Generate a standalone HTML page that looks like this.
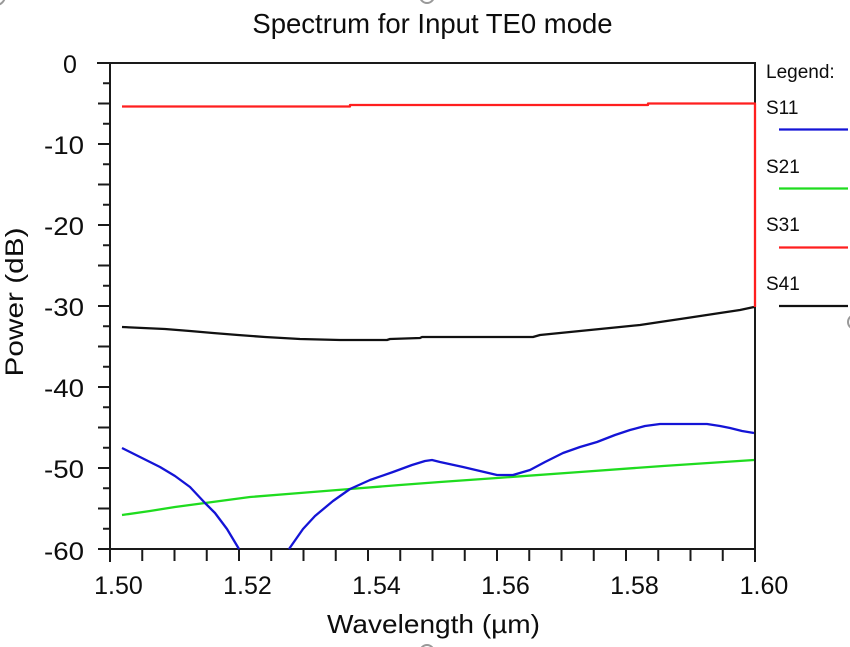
<!DOCTYPE html>
<html>
<head>
<meta charset="utf-8">
<style>
  html, body { margin: 0; padding: 0; background: #ffffff; }
  svg { display: block; }
  text { font-family: "Liberation Sans", Arial, sans-serif; fill: #0d0d0d; }
</style>
</head>
<body>
<svg width="850" height="647" viewBox="0 0 850 647" xmlns="http://www.w3.org/2000/svg">
  <rect x="0" y="0" width="850" height="647" fill="#ffffff"/>

  <!-- small grey handle artifacts -->
  <circle cx="427" cy="-4" r="7" fill="none" stroke="#999" stroke-width="2"/>
  <circle cx="427" cy="652" r="7" fill="none" stroke="#999" stroke-width="2"/>
  <circle cx="855" cy="322" r="7" fill="none" stroke="#999" stroke-width="2"/>
  <circle cx="-4" cy="-4" r="9" fill="none" stroke="#999" stroke-width="2"/>

  <!-- Title -->
  <text x="432.5" y="33" font-size="27.5" text-anchor="middle">Spectrum for Input TE0 mode</text>

  <!-- Frame -->
  <g stroke="#1a1a1a" stroke-width="2" fill="none">
    <line x1="97" y1="63" x2="756" y2="63"/>
    <line x1="755" y1="63" x2="755" y2="562"/>
    <line x1="110" y1="549" x2="756" y2="549"/>
    <line x1="110" y1="62" x2="110" y2="562"/>
  </g>

  <!-- Y ticks -->
  <g stroke="#1a1a1a" stroke-width="2">
    <line x1="98" y1="63" x2="110" y2="63"/>
    <line x1="103" y1="83.25" x2="110" y2="83.25"/>
    <line x1="98" y1="103.5" x2="110" y2="103.5"/>
    <line x1="103" y1="123.75" x2="110" y2="123.75"/>
    <line x1="98" y1="144" x2="110" y2="144"/>
    <line x1="103" y1="164.25" x2="110" y2="164.25"/>
    <line x1="98" y1="184.5" x2="110" y2="184.5"/>
    <line x1="103" y1="204.75" x2="110" y2="204.75"/>
    <line x1="98" y1="225" x2="110" y2="225"/>
    <line x1="103" y1="245.25" x2="110" y2="245.25"/>
    <line x1="98" y1="265.5" x2="110" y2="265.5"/>
    <line x1="103" y1="285.75" x2="110" y2="285.75"/>
    <line x1="98" y1="306" x2="110" y2="306"/>
    <line x1="103" y1="326.25" x2="110" y2="326.25"/>
    <line x1="98" y1="346.5" x2="110" y2="346.5"/>
    <line x1="103" y1="366.75" x2="110" y2="366.75"/>
    <line x1="98" y1="387" x2="110" y2="387"/>
    <line x1="103" y1="407.25" x2="110" y2="407.25"/>
    <line x1="98" y1="427.5" x2="110" y2="427.5"/>
    <line x1="103" y1="447.75" x2="110" y2="447.75"/>
    <line x1="98" y1="468" x2="110" y2="468"/>
    <line x1="103" y1="488.25" x2="110" y2="488.25"/>
    <line x1="98" y1="508.5" x2="110" y2="508.5"/>
    <line x1="103" y1="528.75" x2="110" y2="528.75"/>
    <line x1="98" y1="549" x2="110" y2="549"/>
  </g>

  <!-- X ticks -->
  <g stroke="#1a1a1a" stroke-width="2">
    <line x1="110" y1="549" x2="110" y2="561"/>
    <line x1="142.25" y1="549" x2="142.25" y2="561"/>
    <line x1="174.5" y1="549" x2="174.5" y2="561"/>
    <line x1="206.75" y1="549" x2="206.75" y2="561"/>
    <line x1="239" y1="549" x2="239" y2="561"/>
    <line x1="271.25" y1="549" x2="271.25" y2="561"/>
    <line x1="303.5" y1="549" x2="303.5" y2="561"/>
    <line x1="335.75" y1="549" x2="335.75" y2="561"/>
    <line x1="368" y1="549" x2="368" y2="561"/>
    <line x1="400.25" y1="549" x2="400.25" y2="561"/>
    <line x1="432.5" y1="549" x2="432.5" y2="561"/>
    <line x1="464.75" y1="549" x2="464.75" y2="561"/>
    <line x1="497" y1="549" x2="497" y2="561"/>
    <line x1="529.25" y1="549" x2="529.25" y2="561"/>
    <line x1="561.5" y1="549" x2="561.5" y2="561"/>
    <line x1="593.75" y1="549" x2="593.75" y2="561"/>
    <line x1="626" y1="549" x2="626" y2="561"/>
    <line x1="658.25" y1="549" x2="658.25" y2="561"/>
    <line x1="690.5" y1="549" x2="690.5" y2="561"/>
    <line x1="722.75" y1="549" x2="722.75" y2="561"/>
    <line x1="755" y1="549" x2="755" y2="561"/>
  </g>

  <!-- Y tick labels -->
  <g font-size="25">
    <text x="63" y="73">0</text>
    <text x="84" y="154" text-anchor="end" textLength="40" lengthAdjust="spacingAndGlyphs">-10</text>
    <text x="84" y="235" text-anchor="end" textLength="40" lengthAdjust="spacingAndGlyphs">-20</text>
    <text x="84" y="316" text-anchor="end" textLength="40" lengthAdjust="spacingAndGlyphs">-30</text>
    <text x="84" y="397" text-anchor="end" textLength="40" lengthAdjust="spacingAndGlyphs">-40</text>
    <text x="84" y="478" text-anchor="end" textLength="40" lengthAdjust="spacingAndGlyphs">-50</text>
    <text x="84" y="560" text-anchor="end" textLength="40" lengthAdjust="spacingAndGlyphs">-60</text>
  </g>

  <!-- X tick labels -->
  <g font-size="25" text-anchor="middle">
    <text x="118.5" y="594">1.50</text>
    <text x="247.5" y="594">1.52</text>
    <text x="376.5" y="594">1.54</text>
    <text x="505.5" y="594">1.56</text>
    <text x="634.5" y="594">1.58</text>
    <text x="764" y="594">1.60</text>
  </g>

  <!-- Axis titles -->
  <text x="433.5" y="633" font-size="26" text-anchor="middle" textLength="213" lengthAdjust="spacingAndGlyphs">Wavelength (µm)</text>
  <text transform="translate(23,302) rotate(-90)" x="0" y="0" font-size="25" text-anchor="middle" textLength="149" lengthAdjust="spacingAndGlyphs">Power (dB)</text>

  <!-- Series -->
  <g fill="none" stroke-width="2.3" stroke-linejoin="round">
    <!-- S21 green -->
    <polyline stroke="#1fdc1f" points="122,515 150,511 175,507 205,503 250,497 300,493 350,489 400,485 440,482 497,478 580,472 663,466 754,460"/>
    <!-- S41 black -->
    <polyline stroke="#111111" points="122,327 143,328 165,329 190,331 213,333 238,335 265,337 300,339 340,340 387,340 390,339 420,338 422,337 533,337 540,335 560,333 580,331 600,329 620,327 640,325 660,322 687,318 720,313 740,310 754,307"/>
    <!-- S11 blue -->
    <polyline stroke="#1414d6" points="122,448 140,457 160,467 175,476 190,487 205,503 215,513 227,529 233,539 239,549"/>
    <polyline stroke="#1414d6" points="289,549 296,539 303,529 315,516 333,501 350,489 370,480 393,472 412,465 425,461 432,460 440,462 463,467 480,471 497,475 513,475 530,470 545,462 563,453 580,447 597,442 615,435 630,430 645,426 660,424 707,424 720,426 730,428 742,431 754,433"/>
    <!-- S31 red -->
    <polyline stroke="#ff1f1f" points="122,106.5 350,106.5 350,105 648,105 648,103.5 755,103.5 755,307"/>
  </g>

  <!-- Legend -->
  <g font-size="19">
    <text x="766" y="78">Legend:</text>
    <text x="766" y="114">S11</text>
    <text x="766" y="173">S21</text>
    <text x="766" y="231">S31</text>
    <text x="766" y="290">S41</text>
  </g>
  <g stroke-width="2.3">
    <line x1="779" y1="129.5" x2="848" y2="129.5" stroke="#1414d6"/>
    <line x1="779" y1="188.5" x2="848" y2="188.5" stroke="#1fdc1f"/>
    <line x1="779" y1="247.5" x2="848" y2="247.5" stroke="#ff1f1f"/>
    <line x1="779" y1="306" x2="848" y2="306" stroke="#111111"/>
  </g>
</svg>
</body>
</html>
